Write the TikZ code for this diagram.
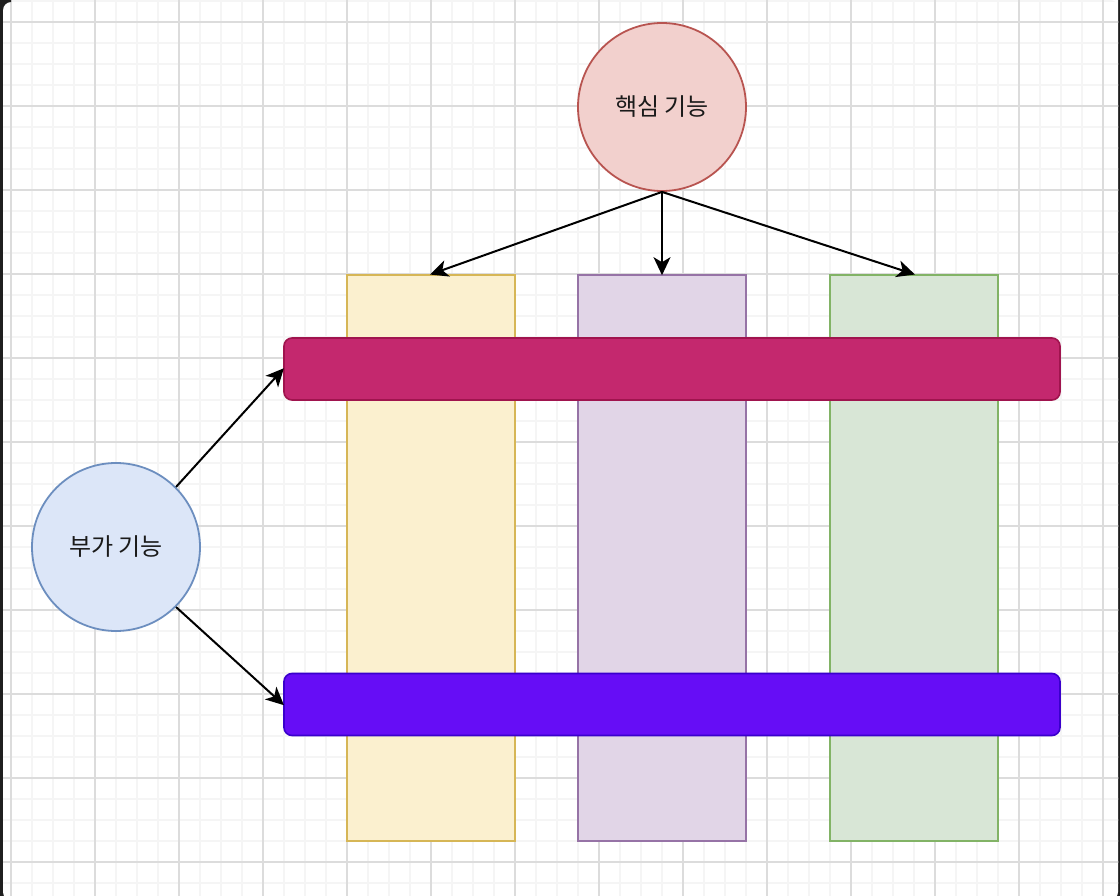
\documentclass[tikz,border=0pt]{standalone}
\usepackage{fontspec}
\newfontfamily\kr{Noto Sans CJK KR}
\usetikzlibrary{arrows.meta}
\definecolor{gminor}{HTML}{F5F5F5}
\definecolor{gmajor}{HTML}{DCDCDC}
\definecolor{corefill}{HTML}{F2D0CD}
\definecolor{coredraw}{HTML}{B85450}
\definecolor{auxfill}{HTML}{DCE6F8}
\definecolor{auxdraw}{HTML}{6C8EBF}
\definecolor{yelfill}{HTML}{FBF0CF}
\definecolor{yeldraw}{HTML}{D6B656}
\definecolor{purfill}{HTML}{E1D5E7}
\definecolor{purdraw}{HTML}{9673A6}
\definecolor{grnfill}{HTML}{D8E6D6}
\definecolor{grndraw}{HTML}{82B366}
\definecolor{magfill}{HTML}{C4286E}
\definecolor{magdraw}{HTML}{A0144E}
\definecolor{viofill}{HTML}{660DF6}
\definecolor{viodraw}{HTML}{3A00CC}
\definecolor{txt}{HTML}{1A1A1A}
\tikzset{
  minorline/.style={gminor, line width=1.2pt},
  majorline/.style={gmajor, line width=1.1pt},
  bubble/.style={circle, minimum size=168pt, inner sep=0pt, line width=1.8pt, text=txt, font=\kr\fontsize{24}{28}\selectfont},
  column/.style={rectangle, minimum width=168pt, minimum height=566pt, inner sep=0pt, line width=1.6pt},
  bar/.style={rectangle, rounded corners=8pt, minimum width=776pt, minimum height=62pt, inner sep=0pt, line width=1.6pt},
  arr/.style={black, line width=2pt, -{Stealth[length=18pt, width=17pt, inset=5pt]}, shorten >=-1pt}
}
\begin{document}
\begin{tikzpicture}[x=1pt, y=-1pt]
\useasboundingbox (0,0) rectangle (1120,896);
\fill[black!88] (0,0) rectangle (1120,896);
\fill[white, rounded corners=8pt] (3,-10) rectangle (1118,900);
\begin{scope}
\clip[rounded corners=8pt] (3,0) rectangle (1118,900);
\foreach \x in {11,32,...,1120} \draw[minorline] (\x,0) -- (\x,896);
\foreach \y in {1,22,...,896} \draw[minorline] (0,\y) -- (1120,\y);
\foreach \x in {11,95,...,1120} \draw[majorline] (\x,0) -- (\x,896);
\foreach \y in {22,106,...,896} \draw[majorline] (0,\y) -- (1120,\y);
\end{scope}
\fill[white] (3,-10) rectangle (1118,0);
\fill[black!88] (0,0) -- (0,10) -- (3,10) arc[start angle=180, end angle=90, radius=8pt] -- (11,0) -- cycle;

\node[column, fill=yelfill, draw=yeldraw] (yel) at (431,558) {};
\node[column, fill=purfill, draw=purdraw] (pur) at (662,558) {};
\node[column, fill=grnfill, draw=grndraw] (grn) at (914,558) {};
\node[bar, fill=magfill, draw=magdraw] (mag) at (672,369) {};
\node[bar, fill=viofill, draw=viodraw] (vio) at (672,704.5) {};

\node[bubble, fill=corefill, draw=coredraw] (core) at (662,107) {핵심 기능};
\node[bubble, fill=auxfill, draw=auxdraw] (aux) at (116,547) {부가 기능};

\draw[arr] (core.south) -- (yel.north);
\draw[arr] (core.south) -- (pur.north);
\draw[arr] (core.south) -- (grn.north);
\draw[arr] (aux.45) -- (mag.west);
\draw[arr] (aux.-45) -- (vio.west);
\end{tikzpicture}
\end{document}
